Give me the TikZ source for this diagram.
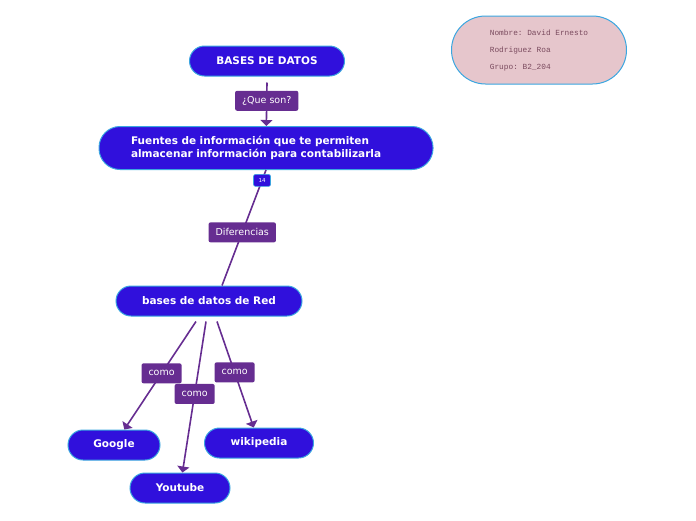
\documentclass[tikz,border=0pt]{standalone}
\usepackage{fontspec}
\setmainfont{DejaVu Sans}
\setmonofont{Liberation Mono}
\usetikzlibrary{arrows.meta}

\definecolor{topicblue}{HTML}{3010DC}
\definecolor{rimblue}{HTML}{3AA6E0}
\definecolor{linkpurple}{HTML}{662D91}
\definecolor{notepink}{HTML}{E6C6CC}
\definecolor{noteink}{HTML}{7A4A5E}

\tikzset{
  topic/.style={rectangle, rounded corners=15pt, fill=topicblue, draw=rimblue, line width=1pt,
    text=white, font=\bfseries\fontsize{10.5}{13}\selectfont, minimum height=30pt},
  tag/.style={fill=linkpurple, text=white, rounded corners=2pt, inner xsep=7pt, inner ysep=3pt,
    font=\fontsize{9.5}{11}\selectfont, minimum height=20pt},
  badge/.style={fill=topicblue, draw=rimblue, line width=0.6pt, text=white, rounded corners=2pt,
    inner sep=1.5pt, font=\fontsize{5.5}{6}\selectfont, minimum width=17pt, minimum height=12pt},
  link/.style={draw=linkpurple, line width=1.6pt},
  tip/.style={-{Triangle[width=12pt,length=6pt]}},
  note/.style={rectangle, rounded corners=34pt, fill=notepink, draw=rimblue, line width=1pt,
    text=noteink, align=left, font=\ttfamily\fontsize{7.8}{17}\selectfont,
    minimum width=175pt, minimum height=68pt}
}

\begin{document}
\begin{tikzpicture}[x=1pt,y=-1pt]
    \useasboundingbox (0,0) rectangle (696,520);

    % Topics
    \node[topic, minimum width=155pt] (bases) at (267,61) {BASES DE DATOS};
    \node[topic, rounded corners=21pt, minimum height=43pt, text width=270pt, inner xsep=32pt,
        align=left] (fuentes) at (266,148)
        {Fuentes de información que te permiten\\almacenar información para contabilizarla};
    \node[topic, minimum width=186pt] (red) at (209,301) {bases de datos de Red};

    % Examples
    \node[topic, minimum width=92pt] (google) at (114,445) {Google};
    \node[topic, minimum width=100pt] (youtube) at (180,488) {Youtube};
    \node[topic, minimum width=109pt] (wiki) at (259,443) {wikipedia};

    % Author note
    \node[note] (author) at (539,50) {Nombre: David Ernesto\\Rodriguez Roa\\Grupo: B2\_204};

    % Start points under the Red node
    \coordinate (r1) at ([xshift=-13pt,yshift=-5pt]red.south);
    \coordinate (r2) at ([xshift=-3pt,yshift=-5pt]red.south);
    \coordinate (r3) at ([xshift=8pt,yshift=-5pt]red.south);

    % Links
    \draw[link,tip] ([yshift=-6pt]bases.south) -- node[tag, pos=0.42] {¿Que son?} (fuentes);
    \draw[link] (fuentes.south) -- node[badge, pos=0.09] {14}
        node[tag, pos=0.54] {Diferencias} ([xshift=13pt]red.north);
    \draw[link,tip] (r1) -- node[tag, pos=0.48] {como} (google);
    \draw[link,tip] (r2) -- node[tag, pos=0.48] {como} (youtube);
    \draw[link,tip] (r3) -- node[tag, pos=0.48] {como} (wiki);
\end{tikzpicture}
\end{document}
